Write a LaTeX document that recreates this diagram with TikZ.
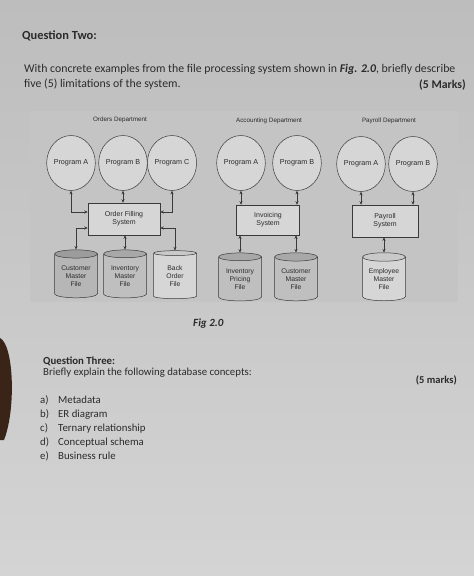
\documentclass[tikz,border=0pt]{standalone}
\usepackage{fontspec}
\setmainfont{Carlito}
\newfontfamily\diagfont{Liberation Sans}
\usetikzlibrary{shapes.geometric,arrows.meta,calc}
\definecolor{pagetop}{HTML}{BDBDBD}
\definecolor{pagebot}{HTML}{D4D4D4}
\definecolor{diagbg}{HTML}{C4C4C4}
\definecolor{lightfill}{HTML}{D6D6D6}
\definecolor{darkfill}{HTML}{B6B6B6}
\definecolor{darktop}{HTML}{9C9C9C}
\definecolor{midfill}{HTML}{BFBFBF}
\definecolor{midtop}{HTML}{A8A8A8}
\definecolor{fingerc}{HTML}{3A2418}
\definecolor{inkc}{HTML}{2B2B2B}
\definecolor{linec}{HTML}{3A3A3A}
\tikzset{
  prog/.style={ellipse, draw=linec, line width=0.5pt, fill=lightfill, minimum width=46pt, minimum height=55pt, inner sep=0pt, font=\diagfont\fontsize{7.2}{8}\selectfont, text=inkc},
  sysbox/.style={rectangle, draw=linec, line width=0.5pt, fill=lightfill, inner sep=0pt, align=center, font=\diagfont\fontsize{7}{8.2}\selectfont, text=inkc},
  dbfile/.style={cylinder, shape border rotate=90, aspect=0.28, draw=linec, line width=0.5pt, minimum width=43pt, minimum height=48pt, inner sep=0pt, align=center, font=\diagfont\fontsize{6.8}{8}\selectfont, text=inkc, cylinder uses custom fill},
  darkdb/.style={dbfile, cylinder body fill=darkfill, cylinder end fill=darktop},
  middb/.style={dbfile, cylinder body fill=midfill, cylinder end fill=midtop},
  lightdb/.style={dbfile, cylinder body fill=lightfill, cylinder end fill=lightfill!94!black},
  dept/.style={font=\diagfont\fontsize{6.3}{7}\selectfont, text=inkc},
  dar/.style={{Stealth[length=3.5pt,width=3pt]}-{Stealth[length=3.5pt,width=3pt]}, line width=0.45pt, draw=linec},
  qtext/.style={anchor=base west, inner sep=0pt, text=inkc},
}
\begin{document}
\begin{tikzpicture}[x=1pt,y=-1pt]
\useasboundingbox (0,0) rectangle (474,576);
\shade[top color=pagetop, bottom color=pagebot] (0,0) rectangle (474,576);
% diagram background
\fill[diagbg] (30,111) rectangle (458,302);
% finger at the left edge of the photo
\fill[fingerc] (0,338) .. controls (14,345) and (16,410) .. (4,440) -- (0,440) -- cycle;

% header texts
\node[qtext, font=\bfseries\fontsize{12.4}{14}\selectfont] (q2) at (22,39.5) {Question Two:};
\node[qtext, font=\fontsize{11.8}{13}\selectfont] (l1) at (24,72) {With concrete examples from the file processing system shown in \textbf{\itshape Fig. 2.0}, briefly describe};
\node[qtext, font=\fontsize{11.8}{13}\selectfont] (l2) at (24,87) {five (5) limitations of the system.};
\node[anchor=base east, inner sep=0pt, text=inkc, font=\bfseries\fontsize{11.8}{13}\selectfont] (m2) at (466,88) {(5 Marks)};

% departments
\node[dept] (d1) at (120,120) {Orders Department};
\node[dept] (d2) at (269,121) {Accounting Department};
\node[dept] (d3) at (389,121) {Payroll Department};

% orders department
\node[prog] (oA) at (71,163) {Program A};
\node[prog] (oB) at (123,163) {Program B};
\node[prog] (oC) at (172,163) {Program C};
\node[sysbox, minimum width=72pt, minimum height=32pt] (of) at (124,219) {Order Filling\\System};
\node[darkdb] (c1) at (76,276) {Customer\\Master\\File};
\node[middb] (c2) at (125,276) {Inventory\\Master\\File};
\node[lightdb] (c3) at (175,276) {Back\\Order\\File};

\draw[dar] (oA.south) |- ([yshift=7pt]of.west);
\draw[dar] (oB.south) -- (oB.south |- of.north);
\draw[dar] (oC.south) |- ([yshift=7pt]of.east);
\draw[dar] ([yshift=-9pt]of.west) -| (c1.north);
\draw[dar] (of.south -| c2.north) -- (c2.north);
\draw[dar] ([yshift=-9pt]of.east) -| (c3.north);

% accounting department
\node[prog] (aA) at (241,163) {Program A};
\node[prog] (aB) at (297,163) {Program B};
\node[sysbox, minimum width=63pt, minimum height=30pt] (inv) at (268,220) {Invoicing\\System};
\node[middb] (c4) at (240,279) {Inventory\\Pricing\\File};
\node[middb] (c5) at (296,279) {Customer\\Master\\File};

\draw[dar] (aA.south) -- (aA.south |- inv.north);
\draw[dar] (aB.south) -- (aB.south |- inv.north);
\draw[dar] (inv.south -| c4.north) -- (c4.north);
\draw[dar] (inv.south -| c5.north) -- (c5.north);

% payroll department
\node[prog] (pA) at (361,164) {Program A};
\node[prog] (pB) at (413,164) {Program B};
\node[sysbox, minimum width=66pt, minimum height=32pt] (pay) at (385,221) {Payroll\\System};
\node[lightdb] (c6) at (384,279) {Employee\\Master\\File};

\draw[dar] (pA.south) -- (pA.south |- pay.north);
\draw[dar] (pB.south) -- (pB.south |- pay.north);
\draw[dar] (pay.south -| c6.north) -- (c6.north);

% caption
\node[qtext, font=\bfseries\itshape\fontsize{11}{12}\selectfont] (fig) at (193,326) {Fig 2.0};

% question three
\node[qtext, font=\bfseries\fontsize{10.8}{12}\selectfont] (q3) at (43,364) {Question Three:};
\node[qtext, font=\fontsize{10.8}{12}\selectfont] (q3t) at (43,375) {Briefly explain the following database concepts:};
\node[anchor=base east, inner sep=0pt, text=inkc, font=\bfseries\fontsize{10.5}{12}\selectfont] (m3) at (457,383) {(5 marks)};

\foreach \lab/\txt/\yy [count=\i] in {a)/Metadata/403, b)/ER diagram/417, c)/Ternary relationship/431, d)/Conceptual schema/445, e)/Business rule/459}{
  \node[qtext, font=\fontsize{10.8}{12}\selectfont] (lab\i) at (40,\yy) {\lab};
  \node[qtext, font=\fontsize{10.8}{12}\selectfont] (it\i) at (58,\yy) {\txt};
}
\end{tikzpicture}
\end{document}
